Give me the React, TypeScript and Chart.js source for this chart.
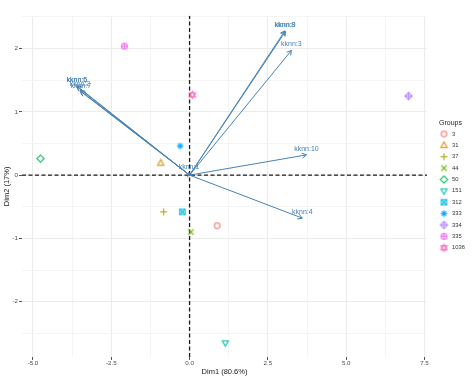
import React, { useEffect, useRef } from "react";
import { Chart, registerables } from "chart.js";

Chart.register(...registerables);

// ---- data ----
const groups = ["3", "31", "37", "44", "50", "151", "312", "333", "334", "335", "1036"];
const groupX = [0.88, -0.92, -0.83, 0.04, -4.76, 1.14, -0.23, -0.3, 6.99, -2.08, 0.09];
const groupY = [-0.8, 0.19, -0.58, -0.9, 0.26, -2.65, -0.58, 0.46, 1.25, 2.04, 1.27];
const groupColors = ["#F8766D", "#DB8E00", "#AEA200", "#64B200", "#00BD5C", "#00C1A7", "#00BADE", "#00A6FF", "#B385FF", "#EF67EB", "#FF63B6"];
const groupShapes = [1, 2, 3, 4, 5, 6, 7, 8, 9, 10, 11];

const varNames = ["kknn:1", "kknn:7", "kknn:2", "kknn:3", "kknn:4", "kknn:5", "kknn:6", "kknn:9", "kknn:8", "kknn:10"];
const varX = [-0.02, -3.47, -3.5, 3.25, 3.6, -3.6, -3.6, 3.06, 3.04, 3.73];
const varY = [0.04, 1.32, 1.34, 1.97, -0.68, 1.4, 1.41, 2.27, 2.28, 0.32];

const xTicks = [-5, -3.75, -2.5, -1.25, 0, 1.25, 2.5, 3.75, 5, 6.25, 7.5];
const xMajor = [-5, -2.5, 0, 2.5, 5, 7.5];
const yTicks = [-2.5, -2, -1.5, -1, -0.5, 0, 0.5, 1, 1.5, 2, 2.5];
const yMajor = [-2, -1, 0, 1, 2];
const xRange = [-5.35, 7.58];
const yRange = [-2.875, 2.52];

const xTitle = "Dim1 (80.6%)";
const yTitle = "Dim2 (17%)";
const legendTitle = "Groups";

const FONT = '"Liberation Sans", Arial, sans-serif';
const ARROW = "#4682B4";

function makeShape(shape: number, color: string): HTMLCanvasElement {
  const c = document.createElement("canvas");
  const S = 11;
  c.width = S;
  c.height = S;
  const g = c.getContext("2d")!;
  g.translate(S / 2, S / 2);
  g.globalAlpha = 0.85;
  g.strokeStyle = color;
  g.lineWidth = 1.25;
  const line = (x1: number, y1: number, x2: number, y2: number) => {
    g.beginPath();
    g.moveTo(x1, y1);
    g.lineTo(x2, y2);
    g.stroke();
  };
  const circle = (r: number) => {
    g.beginPath();
    g.arc(0, 0, r, 0, Math.PI * 2);
    g.stroke();
  };
  const poly = (pts: number[][]) => {
    g.beginPath();
    pts.forEach(([x, y], i) => (i ? g.lineTo(x, y) : g.moveTo(x, y)));
    g.closePath();
    g.stroke();
  };
  const up = [[0, -3.4], [3.1, 2.0], [-3.1, 2.0]];
  const down = [[0, 3.4], [3.1, -2.0], [-3.1, -2.0]];
  switch (shape) {
    case 1: circle(2.8); break;
    case 2: poly(up); break;
    case 3: line(-3.5, 0, 3.5, 0); line(0, -3.5, 0, 3.5); break;
    case 4: line(-2.7, -2.7, 2.7, 2.7); line(-2.7, 2.7, 2.7, -2.7); break;
    case 5: poly([[0, -3.6], [3.6, 0], [0, 3.6], [-3.6, 0]]); break;
    case 6: poly(down); break;
    case 7: poly([[-2.7, -2.7], [2.7, -2.7], [2.7, 2.7], [-2.7, 2.7]]); line(-2.7, -2.7, 2.7, 2.7); line(-2.7, 2.7, 2.7, -2.7); break;
    case 8: line(-3.3, 0, 3.3, 0); line(0, -3.3, 0, 3.3); line(-2.3, -2.3, 2.3, 2.3); line(-2.3, 2.3, 2.3, -2.3); break;
    case 9: poly([[0, -3.6], [3.6, 0], [0, 3.6], [-3.6, 0]]); line(-3.6, 0, 3.6, 0); line(0, -3.6, 0, 3.6); break;
    case 10: circle(2.9); line(-2.9, 0, 2.9, 0); line(0, -2.9, 0, 2.9); break;
    case 11: poly(up); poly(down); break;
  }
  return c;
}

export default function App() {
  const ref = useRef<HTMLCanvasElement | null>(null);

  useEffect(() => {
    if (!ref.current) return;
    const shapes = groups.map((_, i) => makeShape(groupShapes[i], groupColors[i]));

    const arrowPlugin = {
      id: "arrows",
      afterDatasetsDraw(chart: any) {
        const { ctx, scales } = chart;
        const xs = scales.x, ys = scales.y;
        const x0 = xs.getPixelForValue(0), y0 = ys.getPixelForValue(0);
        ctx.save();
        ctx.strokeStyle = ARROW;
        ctx.lineWidth = 1;
        varNames.forEach((_, i) => {
          const px = xs.getPixelForValue(varX[i]);
          const py = ys.getPixelForValue(varY[i]);
          ctx.beginPath();
          ctx.moveTo(x0, y0);
          ctx.lineTo(px, py);
          ctx.stroke();
          const a = Math.atan2(py - y0, px - x0);
          const L = 5, w = Math.PI / 6;
          ctx.beginPath();
          ctx.moveTo(px - L * Math.cos(a - w), py - L * Math.sin(a - w));
          ctx.lineTo(px, py);
          ctx.lineTo(px - L * Math.cos(a + w), py - L * Math.sin(a + w));
          ctx.stroke();
        });
        ctx.fillStyle = ARROW;
        ctx.font = `7px ${FONT}`;
        ctx.textAlign = "center";
        ctx.textBaseline = "middle";
        varNames.forEach((n, i) => {
          const px = xs.getPixelForValue(varX[i]);
          const py = ys.getPixelForValue(varY[i]);
          ctx.fillText(n, px, py - 6);
        });
        ctx.restore();
      },
    };

    const legendPlugin = {
      id: "groupLegend",
      afterDraw(chart: any) {
        const ctx = chart.ctx;
        ctx.save();
        ctx.fillStyle = "#1a1a1a";
        ctx.font = `7px ${FONT}`;
        ctx.textAlign = "left";
        ctx.textBaseline = "middle";
        ctx.fillText(legendTitle, 439, 122.7);
        ctx.font = `5.8px ${FONT}`;
        ctx.fillStyle = "#333";
        groups.forEach((gname, i) => {
          const cy = 134 + i * 11.37;
          const img = shapes[i];
          ctx.drawImage(img, 444 - img.width / 2, cy - img.height / 2);
          ctx.fillText(gname, 452, cy);
        });
        ctx.restore();
      },
    };

    const pointSets = groups.map((gname, i) => ({
      type: "scatter" as const,
      label: gname,
      data: [{ x: groupX[i], y: groupY[i] }],
      pointStyle: shapes[i],
      pointRadius: 4,
      order: 1,
    }));

    const dashed = (pts: { x: number; y: number }[]) => ({
      type: "line" as const,
      label: "",
      data: pts,
      borderColor: "#1a1a1a",
      borderWidth: 1.3,
      borderDash: [4, 2.5],
      pointRadius: 0,
      fill: false,
      order: 5,
    });

    const gridColor = (majors: number[]) => (c: any) =>
      majors.includes(c.tick?.value) ? "#ebebeb" : "#f4f4f4";
    const tickColor = (majors: number[]) => (c: any) =>
      majors.includes(c.tick?.value) ? "#555" : "rgba(0,0,0,0)";

    const chart = new Chart(ref.current, {
      type: "scatter",
      data: {
        datasets: [
          dashed([{ x: 0, y: yRange[0] }, { x: 0, y: yRange[1] }]),
          dashed([{ x: xRange[0], y: 0 }, { x: xRange[1], y: 0 }]),
          ...pointSets,
        ] as any,
      },
      options: {
        animation: false,
        responsive: true,
        maintainAspectRatio: false,
        events: [],
        layout: { padding: { top: 15.7, right: 47, left: 0, bottom: 0 } },
        plugins: { legend: { display: false }, tooltip: { enabled: false } },
        scales: {
          x: {
            type: "linear",
            min: xRange[0],
            max: xRange[1],
            afterBuildTicks: (s: any) => { s.ticks = xTicks.map((v) => ({ value: v })); },
            afterFit: (s: any) => { s.height = 22; },
            border: { display: false },
            grid: { color: gridColor(xMajor), tickColor: tickColor(xMajor), tickLength: 3, lineWidth: 1 },
            ticks: {
              autoSkip: false,
              maxRotation: 0,
              minRotation: 0,
              padding: 0,
              color: "#4d4d4d",
              font: { family: FONT, size: 6.2 },
              callback: (v: any) => (xMajor.includes(Number(v)) ? Number(v).toFixed(1) : ""),
            },
            title: { display: true, text: xTitle, color: "#1a1a1a", font: { family: FONT, size: 7.5 }, padding: { top: 0, bottom: 2.8 } },
          },
          y: {
            type: "linear",
            min: yRange[0],
            max: yRange[1],
            afterBuildTicks: (s: any) => { s.ticks = yTicks.map((v) => ({ value: v })); },
            afterFit: (s: any) => { s.width = 22; },
            border: { display: false },
            grid: { color: gridColor(yMajor), tickColor: tickColor(yMajor), tickLength: 3, lineWidth: 1 },
            ticks: {
              autoSkip: false,
              padding: 1,
              color: "#4d4d4d",
              font: { family: FONT, size: 6.2 },
              callback: (v: any) => (yMajor.includes(Number(v)) ? String(v) : ""),
            },
            title: { display: true, text: yTitle, color: "#1a1a1a", font: { family: FONT, size: 7.5 }, padding: { top: 2.8, bottom: 0 } },
          },
        },
      } as any,
      plugins: [arrowPlugin, legendPlugin],
    });
    return () => chart.destroy();
  }, []);

  return (
    <div style={{ position: "fixed", left: 0, top: 0, width: 474, height: 379, background: "#fff" }}>
      <canvas ref={ref} />
    </div>
  );
}
